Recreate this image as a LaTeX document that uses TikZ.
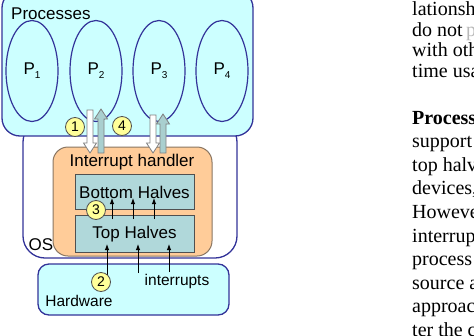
\documentclass[tikz,border=0pt]{standalone}
\usepackage{fontspec}
\setmainfont{Liberation Sans}
\newfontfamily\serifcol{Liberation Serif}
\usetikzlibrary{arrows.meta,shapes.geometric,calc}
\definecolor{pcyan}{HTML}{CCFFFF}
\definecolor{pblue}{HTML}{333399}
\definecolor{porange}{HTML}{FFCC99}
\definecolor{pbrown}{HTML}{8A7662}
\definecolor{pteal}{HTML}{B0D8DA}
\definecolor{pgray}{HTML}{505050}
\definecolor{pyellow}{HTML}{FFFF99}
\definecolor{parrow}{HTML}{A9CFCF}
\definecolor{agray}{HTML}{808080}
\begin{document}
\begin{tikzpicture}[x=1pt,y=-1pt,
  box/.style={inner sep=0pt, outer sep=0pt, anchor=north west},
  bluebox/.style={box, draw=pblue, line width=1.3pt, fill=pcyan},
  halfbox/.style={box, draw=pgray, line width=0.9pt, fill=pteal},
  proc/.style={ellipse, draw=pblue, line width=1.2pt, minimum width=52pt, minimum height=101pt, inner sep=0pt, font=\fontsize{17}{17}\selectfont},
  lbl/.style={inner sep=0pt, font=\fontsize{17}{17}\selectfont},
  hlbl/.style={inner sep=0pt, font=\fontsize{15.5}{15.5}\selectfont},
  num/.style={circle, draw=pgray, line width=0.8pt, fill=pyellow, minimum size=19pt, inner sep=0pt, font=\fontsize{14}{14}\selectfont},
  sarrow/.style={line width=0.9pt, -{Latex[length=6pt,width=4.5pt]}},
  body/.style={anchor=base west, inner sep=0pt, font=\serifcol\fontsize{20}{22}\selectfont},
  hollow/.style={draw=agray, line width=0.8pt, fill=white},
  filled/.style={draw=agray, line width=0.8pt, fill=parrow}]
\clip (0,0) rectangle (474,335);
\fill[white] (0,0) rectangle (474,335);
% boxes
\node[box, draw=pblue, line width=1.3pt, fill=white, rounded corners=22pt, minimum width=214pt, minimum height=138pt] (os) at (23,120) {};
\node[bluebox, rounded corners=18pt, minimum width=251pt, minimum height=146pt] (procs) at (2,-10) {};
\node[lbl, anchor=west] (proclbl) at (11,14) {Processes};
\node[proc] (p1) at (32,71) {P\raisebox{-4pt}{\fontsize{10}{10}\selectfont 1}};
\node[proc] (p2) at (96,71) {P\raisebox{-4pt}{\fontsize{10}{10}\selectfont 2}};
\node[proc] (p3) at (159,71) {P\raisebox{-4pt}{\fontsize{10}{10}\selectfont 3}};
\node[proc] (p4) at (222,71) {P\raisebox{-4pt}{\fontsize{10}{10}\selectfont 4}};
\node[box, draw=pbrown, line width=1pt, fill=porange, rounded corners=15pt, minimum width=159pt, minimum height=109pt] (ih) at (53,147) {};
\node[lbl] (ihlbl) at (132,162) {Interrupt handler};
\node[halfbox, minimum width=119pt, minimum height=35pt] (bh) at (75,174) {};
\node[lbl] (bhlbl) at (134.5,192) {Bottom Halves};
\node[halfbox, minimum width=119pt, minimum height=37pt] (th) at (75,215) {};
\node[lbl] (thlbl) at (134.5,234) {Top Halves};
\node[lbl] (oslbl) at (41,245) {OS};
\node[bluebox, rounded corners=11pt, minimum width=191pt, minimum height=51pt] (hw) at (38,264) {};
\node[hlbl] (hwlbl) at (79,301) {Hardware};
\node[hlbl] (intlbl) at (177,281) {interrupts};
% small arrows between halves
\foreach \dx in {37,58,79}
  \draw[sarrow] ($(th.north west)+(\dx,4)$) -- ($(bh.south west)+(\dx,-11)$);
% arrows from hardware
\draw[sarrow] ($(hw.north west)+(69,18)$) -- ($(th.south west)+(32,-8)$);
\draw[sarrow] ($(hw.north west)+(100,9)$) -- ($(th.south west)+(63,-8)$);
\draw[sarrow] ($(hw.north west)+(131,8)$) -- ($(th.south west)+(94,-8)$);
% block arrows
\path[hollow] (87,110) -- (93,110) -- (93,143) -- (96.5,143) -- (90,153) -- (83.5,143) -- (87,143) -- cycle;
\path[filled] (98,153) -- (104,153) -- (104,119) -- (107.5,119) -- (101,109) -- (94.5,119) -- (98,119) -- cycle;
\path[hollow] (150,115) -- (156,115) -- (156,143) -- (159.5,143) -- (153,153) -- (146.5,143) -- (150,143) -- cycle;
\path[filled] (160,153) -- (166,153) -- (166,124) -- (169.5,124) -- (163,114) -- (156.5,124) -- (160,124) -- cycle;
% numbered circles
\node[num] (c1) at (75,127) {1};
\node[num] (c4) at (122,126) {4};
\node[num] (c3) at (96,210) {3};
\node[num] (c2) at (101,282) {2};
% text column
\node[body] (l1) at (412,15.5) {lationsh};
\node[body] (l2) at (412,36) {do not};
\node[body] (l2b) at (466,36) {\textcolor{gray!55}{p}};
\node[body] (l3) at (412,56.5) {with oth};
\node[body] (l4) at (412,77) {time usa};
\node[body] (l5) at (412,124) {\bfseries Process};
\node[body] (l6) at (412,147.6) {support};
\node[body] (l7) at (412,171.2) {top halv};
\node[body] (l8) at (412,194.8) {devices,};
\node[body] (l9) at (412,218.4) {Howeve};
\node[body] (l10) at (412,242) {interrup};
\node[body] (l11) at (412,265.6) {process};
\node[body] (l12) at (412,289.2) {source a};
\node[body] (l13) at (412,312.8) {approac};
\node[body] (l14) at (412,336.4) {ter the c};
\end{tikzpicture}
\end{document}
